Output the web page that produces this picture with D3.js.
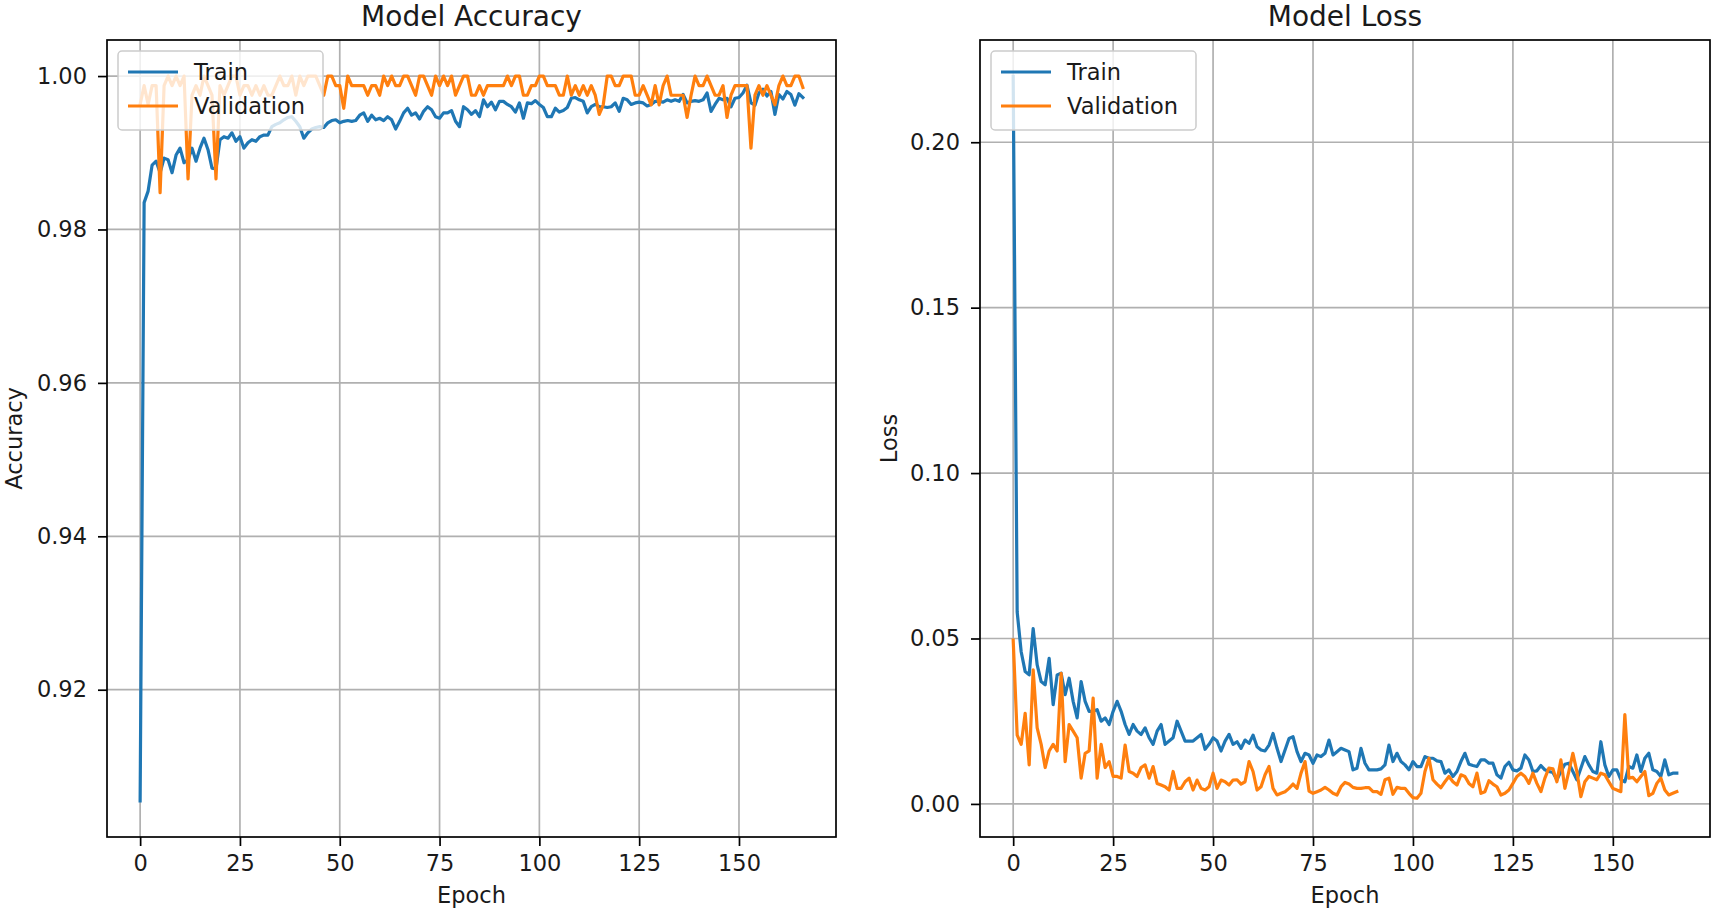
<!DOCTYPE html>
<html>
<head>
<meta charset="utf-8">
<script src="https://cdn.jsdelivr.net/npm/d3@7/dist/d3.min.js"></script>
<style>
  html, body { margin: 0; padding: 0; background: #ffffff; }
  svg { display: block; }
  text { font-family: "DejaVu Sans", sans-serif; }
</style>
</head>
<body>
<svg id="chart" width="1713" height="911"></svg>
<script>
// ---------------- data ----------------
const epochs = d3.range(167);

const xTicks = [0, 25, 50, 75, 100, 125, 150];
const accTicks = [0.92, 0.94, 0.96, 0.98, 1.00];
const lossTicks = [0.00, 0.05, 0.10, 0.15, 0.20];

const xLimits = [-8.3, 174.3];
const accLimits = [0.9008, 1.0047];
const lossLimits = [-0.0100, 0.2309];

const seriesNames = ["Train", "Validation"];
const seriesColors = ["#1f77b4", "#ff7f0e"];

const trainAcc = [
  0.9055, 0.9835, 0.9850, 0.9884, 0.9889, 0.9874, 0.9893, 0.9891, 0.9874, 0.9897,
  0.9906, 0.9887, 0.9891, 0.9906, 0.9889, 0.9906, 0.9919, 0.9904, 0.9880, 0.9879,
  0.9917, 0.9921, 0.9919, 0.9926, 0.9915, 0.9921, 0.9906, 0.9913, 0.9917, 0.9915,
  0.9921, 0.9923, 0.9923, 0.9934, 0.9937, 0.9939, 0.9943, 0.9946, 0.9947, 0.9941,
  0.9934, 0.9919, 0.9926, 0.9931, 0.9933, 0.9934, 0.9933, 0.9939, 0.9942, 0.9943,
  0.9939, 0.9941, 0.9942, 0.9941, 0.9942, 0.9949, 0.9952, 0.9941, 0.9949, 0.9943,
  0.9945, 0.9942, 0.9947, 0.9943, 0.9931, 0.9941, 0.9952, 0.9958, 0.9949, 0.9952,
  0.9944, 0.9954, 0.9960, 0.9956, 0.9947, 0.9945, 0.9952, 0.9952, 0.9955, 0.9941,
  0.9934, 0.9960, 0.9956, 0.9950, 0.9955, 0.9947, 0.9969, 0.9960, 0.9966, 0.9956,
  0.9967, 0.9967, 0.9963, 0.9960, 0.9953, 0.9965, 0.9945, 0.9965, 0.9964, 0.9968,
  0.9963, 0.9959, 0.9947, 0.9947, 0.9958, 0.9953, 0.9955, 0.9959, 0.9971, 0.9972,
  0.9969, 0.9967, 0.9952, 0.9960, 0.9963, 0.9960, 0.9960, 0.9959, 0.9960, 0.9965,
  0.9954, 0.9971, 0.9969, 0.9963, 0.9965, 0.9966, 0.9965, 0.9961, 0.9963, 0.9967,
  0.9967, 0.9966, 0.9969, 0.9967, 0.9969, 0.9967, 0.9976, 0.9965, 0.9967, 0.9968,
  0.9967, 0.9969, 0.9978, 0.9954, 0.9963, 0.9971, 0.9969, 0.9971, 0.9960, 0.9971,
  0.9972, 0.9978, 0.9988, 0.9965, 0.9962, 0.9978, 0.9983, 0.9974, 0.9980, 0.9950,
  0.9976, 0.9970, 0.9980, 0.9976, 0.9962, 0.9977, 0.9972
];

const valAcc = [
  0.9963, 0.99875, 0.9963, 0.99875, 0.99875, 0.9848, 0.99875, 1.0, 0.99875, 1.0,
  0.99875, 1.0, 0.9866, 0.9975, 0.99875, 0.9975, 1.0, 0.99875, 0.9975, 0.9866,
  0.99875, 0.9975, 0.99875, 1.0, 1.0, 0.9975, 0.99875, 0.99875, 0.9975, 0.99875,
  0.9975, 0.99875, 0.9975, 0.9975, 0.99875, 1.0, 0.99875, 0.99875, 1.0, 0.9975,
  1.0, 0.99875, 1.0, 1.0, 1.0, 0.99875, 0.9975, 1.0, 1.0, 0.99875,
  0.99875, 0.9958, 1.0, 0.99875, 0.99875, 0.99875, 0.99875, 0.9975, 0.99875, 0.99875,
  0.9975, 1.0, 0.99875, 1.0, 0.99875, 0.99875, 1.0, 1.0, 0.99875, 0.9975,
  1.0, 1.0, 0.99875, 0.9975, 1.0, 0.99875, 1.0, 0.99875, 1.0, 0.9975,
  0.99875, 1.0, 1.0, 0.9975, 0.9975, 0.99875, 0.9975, 0.99875, 0.99875, 0.99875,
  0.99875, 0.99875, 1.0, 0.99875, 1.0, 1.0, 0.9975, 0.9975, 0.99875, 0.99875,
  1.0, 1.0, 0.99875, 0.99875, 0.99875, 0.9975, 0.9975, 1.0, 0.9975, 0.99875,
  0.9975, 0.99875, 0.9975, 0.99875, 0.9975, 0.9950, 0.99625, 1.0, 1.0, 0.99875,
  0.99875, 1.0, 1.0, 1.0, 0.9975, 0.9975, 0.99875, 0.9975, 0.99625, 0.99875,
  0.99625, 0.99875, 1.0, 0.9975, 0.9975, 0.9975, 0.9975, 0.9946, 0.9975, 1.0,
  0.99875, 0.99875, 1.0, 0.99875, 0.9975, 0.9975, 0.99875, 0.9946, 0.9975, 0.99875,
  0.99875, 0.99875, 0.99875, 0.9906, 0.9975, 0.99875, 0.9975, 0.99875, 0.9975, 0.99625,
  0.99875, 1.0, 0.99875, 0.99875, 1.0, 1.0, 0.9985
];

const trainLoss = [
  0.2199, 0.0580, 0.0460, 0.0400, 0.0390, 0.0530, 0.0420, 0.0370, 0.0360, 0.0440,
  0.0300, 0.0390, 0.0395, 0.0330, 0.0380, 0.0310, 0.0260, 0.0370, 0.0310, 0.0280,
  0.0280, 0.0285, 0.0250, 0.0260, 0.0240, 0.0280, 0.0310, 0.0280, 0.0240, 0.0210,
  0.0240, 0.0220, 0.0210, 0.0230, 0.0200, 0.0180, 0.0220, 0.0240, 0.0180, 0.0190,
  0.0200, 0.0250, 0.0220, 0.0190, 0.0190, 0.0190, 0.0200, 0.0210, 0.0165, 0.0180,
  0.0200, 0.0190, 0.0160, 0.0190, 0.0210, 0.0180, 0.0188, 0.0168, 0.0193, 0.0183,
  0.0208, 0.0173, 0.0163, 0.0160, 0.0178, 0.0213, 0.0168, 0.0128, 0.0163, 0.0198,
  0.0203, 0.0158, 0.0128, 0.0153, 0.0148, 0.0123, 0.0148, 0.0143, 0.0153, 0.0193,
  0.0148, 0.0158, 0.0168, 0.0163, 0.0158, 0.0103, 0.0108, 0.0168, 0.0123, 0.0103,
  0.0103, 0.0103, 0.0106, 0.0118, 0.0178, 0.0128, 0.0153, 0.0128, 0.0118, 0.0103,
  0.0128, 0.0113, 0.0113, 0.0143, 0.0138, 0.0138, 0.0130, 0.0128, 0.0093, 0.0103,
  0.0083, 0.0098, 0.0128, 0.0153, 0.0120, 0.0116, 0.0113, 0.0133, 0.0133, 0.0123,
  0.0123, 0.0088, 0.0078, 0.0113, 0.0126, 0.0103, 0.0100, 0.0108, 0.0148, 0.0133,
  0.0098, 0.0100, 0.0116, 0.0103, 0.0098, 0.0095, 0.0073, 0.0098, 0.0120, 0.0123,
  0.0098, 0.0073, 0.0108, 0.0143, 0.0118, 0.0098, 0.0093, 0.0188, 0.0118, 0.0083,
  0.0103, 0.0103, 0.0073, 0.0067, 0.0113, 0.0108, 0.0148, 0.0098, 0.0138, 0.0153,
  0.0103, 0.0098, 0.0083, 0.0133, 0.0088, 0.0093, 0.0093
];

const valLoss = [
  0.0495, 0.0208, 0.0180, 0.0274, 0.0118, 0.0405, 0.0230, 0.0180, 0.0110, 0.0160,
  0.0180, 0.0160, 0.0395, 0.0128, 0.0240, 0.0220, 0.0200, 0.0078, 0.0153, 0.0160,
  0.0320, 0.0078, 0.0180, 0.0110, 0.0128, 0.0083, 0.0083, 0.0078, 0.0178, 0.0098,
  0.0093, 0.0083, 0.0110, 0.0118, 0.0078, 0.0113, 0.0062, 0.0057, 0.0052, 0.0042,
  0.0098, 0.0047, 0.0047, 0.0067, 0.0078, 0.0042, 0.0072, 0.0047, 0.0042, 0.0052,
  0.0093, 0.0047, 0.0072, 0.0067, 0.0057, 0.0072, 0.0073, 0.0060, 0.0067, 0.0128,
  0.0098, 0.0042, 0.0052, 0.0088, 0.0113, 0.0047, 0.0027, 0.0032, 0.0037, 0.0047,
  0.0060, 0.0047, 0.0093, 0.0128, 0.0039, 0.0032, 0.0037, 0.0042, 0.0050, 0.0042,
  0.0032, 0.0027, 0.0052, 0.0065, 0.0060, 0.0050, 0.0047, 0.0047, 0.0049, 0.0049,
  0.0037, 0.0037, 0.0029, 0.0073, 0.0078, 0.0029, 0.0050, 0.0047, 0.0047, 0.0032,
  0.0019, 0.0017, 0.0032, 0.0098, 0.0138, 0.0073, 0.0060, 0.0049, 0.0067, 0.0083,
  0.0067, 0.0057, 0.0088, 0.0083, 0.0062, 0.0052, 0.0093, 0.0032, 0.0037, 0.0070,
  0.0060, 0.0052, 0.0027, 0.0032, 0.0042, 0.0062, 0.0083, 0.0093, 0.0083, 0.0062,
  0.0093, 0.0062, 0.0037, 0.0078, 0.0108, 0.0106, 0.0067, 0.0133, 0.0047, 0.0098,
  0.0153, 0.0098, 0.0022, 0.0067, 0.0083, 0.0078, 0.0073, 0.0093, 0.0088, 0.0067,
  0.0047, 0.0042, 0.0037, 0.0270, 0.0078, 0.0080, 0.0067, 0.0083, 0.0098, 0.0025,
  0.0032, 0.0062, 0.0078, 0.0042, 0.0027, 0.0032, 0.0037
];

// ---------------- drawing ----------------
const svg = d3.select("#chart");
const FONT = 22.5;
const TEXT = "#1a1a1a";

const panels = [
  { left: 107, right: 836, title: "Model Accuracy", ylabel: "Accuracy", ylabelX: 22,
    yLim: accLimits, yTicks: accTicks, series: [trainAcc, valAcc] },
  { left: 980, right: 1710, title: "Model Loss", ylabel: "Loss", ylabelX: 897,
    yLim: lossLimits, yTicks: lossTicks, series: [trainLoss, valLoss] }
];
const axTop = 40, axBottom = 837;

panels.forEach(p => {
  const x = d3.scaleLinear().domain(xLimits).range([p.left, p.right]);
  const y = d3.scaleLinear().domain(p.yLim).range([axBottom, axTop]);
  const g = svg.append("g");

  // grid
  g.append("g").selectAll("line").data(xTicks).join("line")
    .attr("x1", d => x(d)).attr("x2", d => x(d))
    .attr("y1", axTop).attr("y2", axBottom)
    .attr("stroke", "#b0b0b0").attr("stroke-width", 1.7);
  g.append("g").selectAll("line").data(p.yTicks).join("line")
    .attr("x1", p.left).attr("x2", p.right)
    .attr("y1", d => y(d)).attr("y2", d => y(d))
    .attr("stroke", "#b0b0b0").attr("stroke-width", 1.7);

  // lines
  const line = d3.line().x((d, i) => x(epochs[i])).y(d => y(d));
  p.series.forEach((s, k) => {
    g.append("path").datum(s)
      .attr("d", line)
      .attr("fill", "none")
      .attr("stroke", seriesColors[k])
      .attr("stroke-width", 3.2)
      .attr("stroke-linejoin", "round")
      .attr("stroke-linecap", "square");
  });

  // axes
  const xAxis = d3.axisBottom(x).tickValues(xTicks).tickFormat(d3.format("d"))
    .tickSize(9).tickPadding(9);
  const yAxis = d3.axisLeft(y).tickValues(p.yTicks).tickFormat(d3.format(".2f"))
    .tickSize(9).tickPadding(11);
  const gx = g.append("g").attr("transform", `translate(0,${axBottom})`).call(xAxis);
  const gy = g.append("g").attr("transform", `translate(${p.left},0)`).call(yAxis);
  [gx, gy].forEach(a => {
    a.select(".domain").remove();
    a.selectAll(".tick line").attr("stroke", "#000").attr("stroke-width", 1.7);
    a.selectAll(".tick text")
      .attr("fill", TEXT)
      .style("font-size", FONT + "px")
      .style("font-family", "'DejaVu Sans', sans-serif");
  });

  // spines
  g.append("rect")
    .attr("x", p.left).attr("y", axTop)
    .attr("width", p.right - p.left).attr("height", axBottom - axTop)
    .attr("fill", "none").attr("stroke", "#000").attr("stroke-width", 1.7);

  // title & labels
  g.append("text").text(p.title)
    .attr("x", (p.left + p.right) / 2).attr("y", 26)
    .attr("text-anchor", "middle").attr("fill", TEXT)
    .style("font-size", "28px");
  g.append("text").text("Epoch")
    .attr("x", (p.left + p.right) / 2).attr("y", 903)
    .attr("text-anchor", "middle").attr("fill", TEXT)
    .style("font-size", FONT + "px");
  g.append("text").text(p.ylabel)
    .attr("transform", `translate(${p.ylabelX},${(axTop + axBottom) / 2}) rotate(-90)`)
    .attr("text-anchor", "middle").attr("fill", TEXT)
    .style("font-size", FONT + "px");

  // legend
  const lx = p.left + 11, ly = axTop + 11;
  const lg = g.append("g");
  lg.append("rect")
    .attr("x", lx).attr("y", ly).attr("width", 205).attr("height", 79)
    .attr("rx", 4).attr("ry", 4)
    .attr("fill", "#ffffff").attr("fill-opacity", 0.8)
    .attr("stroke", "#cccccc").attr("stroke-width", 1.5);
  seriesNames.forEach((name, k) => {
    const cy = ly + 21 + k * 34;
    lg.append("line")
      .attr("x1", lx + 10).attr("x2", lx + 60)
      .attr("y1", cy).attr("y2", cy)
      .attr("stroke", seriesColors[k]).attr("stroke-width", 3.2);
    lg.append("text").text(name)
      .attr("x", lx + 76).attr("y", cy + 8)
      .attr("fill", TEXT)
      .style("font-size", FONT + "px");
  });
});
</script>
</body>
</html>
